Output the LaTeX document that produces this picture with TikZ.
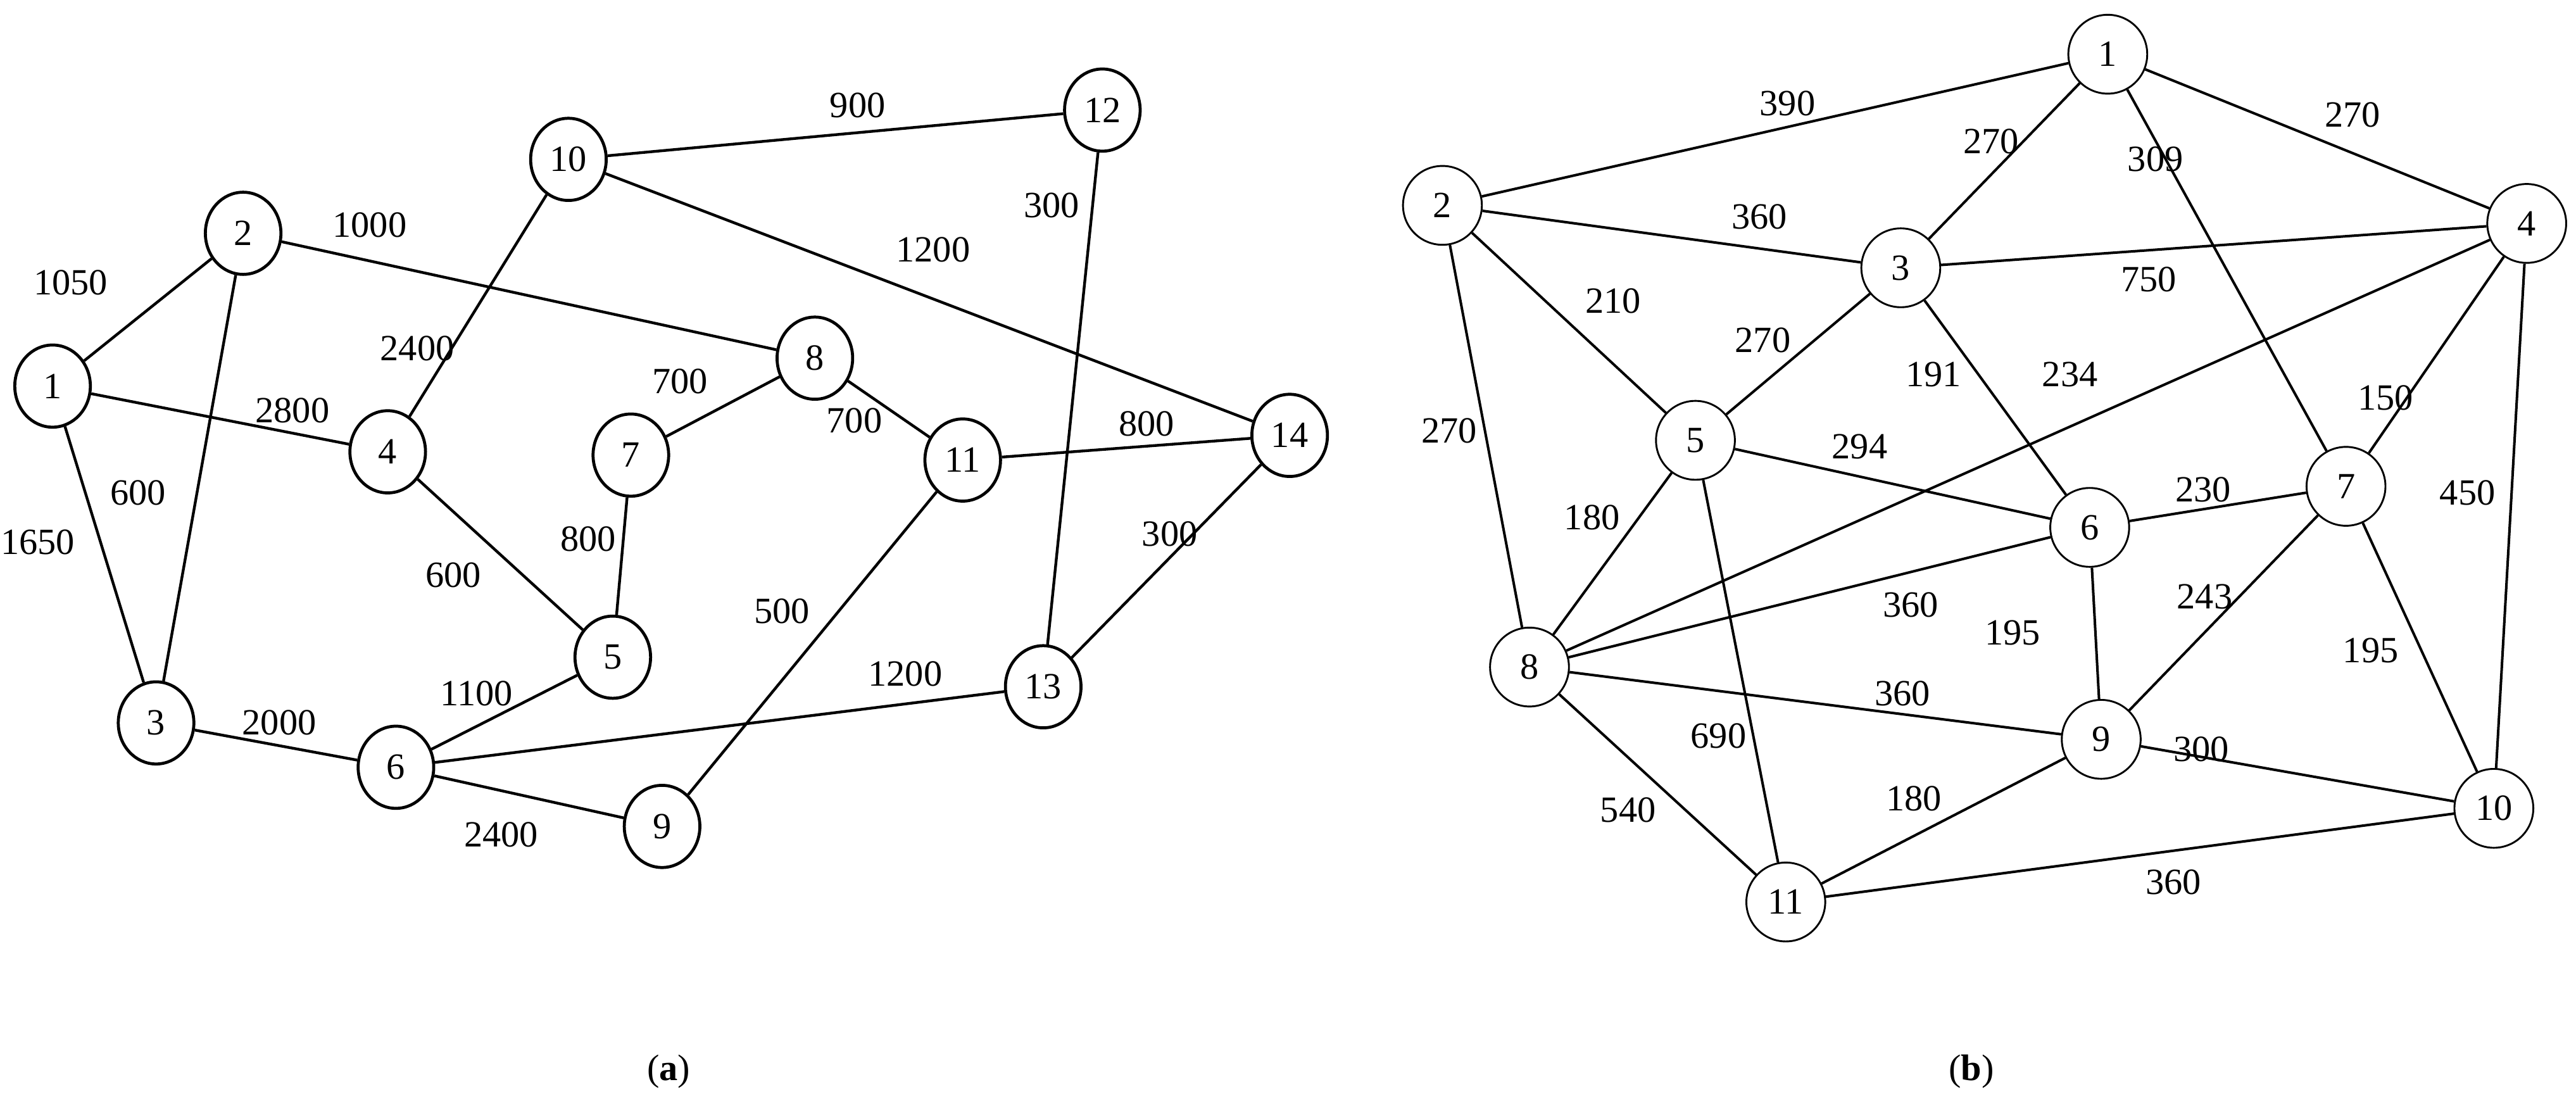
\documentclass[tikz,border=0pt]{standalone}
\usepackage{fontspec}
\setmainfont{Liberation Serif}
\usetikzlibrary{shapes.geometric}
\begin{document}
\begin{tikzpicture}[x=0.025cm,y=-0.025cm,
  every node/.style={font=\fontsize{16}{19}\selectfont},
  na/.style={draw,ellipse,minimum width=1.15cm,minimum height=1.25cm,inner sep=0pt,line width=1.3pt,fill=white},
  nb/.style={draw,circle,minimum size=1.2cm,inner sep=0pt,line width=0.8pt,fill=white},
  ea/.style={line width=1.2pt},
  eb/.style={line width=1.1pt},
  lab/.style={inner sep=1pt}]
\useasboundingbox (0,0) rectangle (1568,670);
% (a)
\foreach \n/\x/\y in {1/32/235,2/148/142,3/95/440,4/236/275,5/373/400,6/241/467,7/384/277,8/496/218,9/403/503,10/346/97,11/586/280,12/671/67,13/635/418,14/785/265}
  \node[na] (a\n) at (\x,\y) {\n};
\begin{scope}[on background layer/.try]
\end{scope}
\foreach \a/\b in {1/2,1/4,1/3,2/3,2/8,3/6,4/10,4/5,5/7,5/6,6/13,6/9,7/8,8/11,9/11,10/12,10/14,11/14,12/13,13/14}
  \draw[ea] (a\a) -- (a\b);
\foreach \t/\x/\y in {1050/43/172,2800/178/250,1650/23/330,600/84/300,1000/225/137,2000/170/440,2400/254/212,600/276/350,800/358/328,1100/290/422,1200/551/410,2400/305/508,700/414/232,700/520/256,500/476/372,900/522/64,1200/568/152,800/698/258,300/640/125,300/712/325}
  \node[lab] at (\x,\y) {\t};
% (b)
\foreach \n/\x/\y in {1/1283/33,2/878/125,3/1157/163,4/1538/136,5/1032/268,6/1272/321,7/1428/296,8/931/406,9/1279/450,10/1518/492,11/1087/549}
  \node[nb] (b\n) at (\x,\y) {\n};
\foreach \a/\b in {2/1,1/3,1/7,1/4,2/3,3/4,2/5,2/8,3/5,3/6,4/8,4/7,4/10,5/6,5/8,5/11,6/7,6/8,6/9,7/9,7/10,8/9,8/11,9/11,9/10,11/10}
  \draw[eb] (b\a) -- (b\b);
\foreach \t/\x/\y in {390/1088/63,270/1212/86,309/1312/97,270/1432/70,360/1071/132,750/1308/170,210/982/183,270/882/262,270/1073/207,191/1177/228,234/1260/228,150/1452/242,450/1502/300,294/1132/272,180/969/315,230/1341/298,360/1163/368,195/1225/385,243/1342/363,195/1443/396,360/1158/422,690/1046/448,300/1340/456,180/1165/486,540/991/493,360/1323/537}
  \node[lab] at (\x,\y) {\t};
\node (capa) at (407,652) {(\textbf{a})};
\node (capb) at (1200,652) {(\textbf{b})};
\end{tikzpicture}
\end{document}
